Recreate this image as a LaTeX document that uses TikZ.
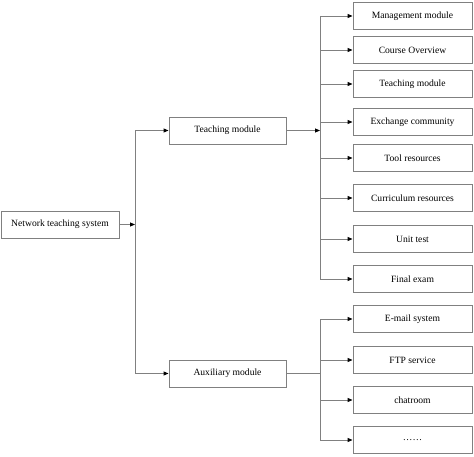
\documentclass[tikz,border=0pt]{standalone}
\usepackage{fontspec}
\setmainfont{Liberation Serif}
\usetikzlibrary{arrows.meta}
\begin{document}
\begin{tikzpicture}[x=1pt,y=-1pt,
  box/.style={draw=black!50, line width=0.9pt, fill=white, minimum height=27pt, inner sep=0pt, font=\fontsize{9.6}{11}\selectfont},
  rootbox/.style={box, minimum width=118pt},
  midbox/.style={box, minimum width=117pt},
  leafbox/.style={box, minimum width=119pt},
  conn/.style={draw=black!50, line width=0.9pt},
  arr/.style={conn, -{Triangle[length=5pt,width=4pt,color=black]}}]
\useasboundingbox (0,0) rectangle (474,457);
\node[rootbox] (root) at (60,224.5) {Network teaching system};
\node[midbox] (tm) at (227.5,130.5) {Teaching module};
\node[midbox] (am) at (227.5,373.5) {Auxiliary module};
\foreach \n/\y/\t in {l1/16/Management module, l2/50/Course Overview, l3/84/Teaching module, l4/122/Exchange community, l5/158/Tool resources, l6/198/Curriculum resources, l7/239/Unit test, l8/279/Final exam, a1/319/E-mail system, a2/360/FTP service, a3/400/chatroom}
  \node[leafbox] (\n) at (412.5,\y) {\t};
\node[leafbox] (a4) at (412.5,440) {\ldots\ldots};
\coordinate (t1) at (135,224.5);
\coordinate (t2) at (320,130.5);
\coordinate (t3) at (320,373.5);
\draw[arr] (root.east) -- (t1);
\draw[conn] (t1|-tm.west) -- (t1|-am.west);
\draw[arr] (t1|-tm.west) -- (tm.west);
\draw[arr] (t1|-am.west) -- (am.west);
\draw[arr] (tm.east) -- (t2);
\draw[conn] (t2|-l1.west) -- (t2|-l8.west);
\foreach \n in {l1,l2,l3,l4,l5,l6,l7,l8}
  \draw[arr] (t2|-\n.west) -- (\n.west);
\draw[conn] (am.east) -- (t3);
\draw[conn] (t3|-a1.west) -- (t3|-a4.west);
\foreach \n in {a1,a2,a3,a4}
  \draw[arr] (t3|-\n.west) -- (\n.west);
\end{tikzpicture}
\end{document}
